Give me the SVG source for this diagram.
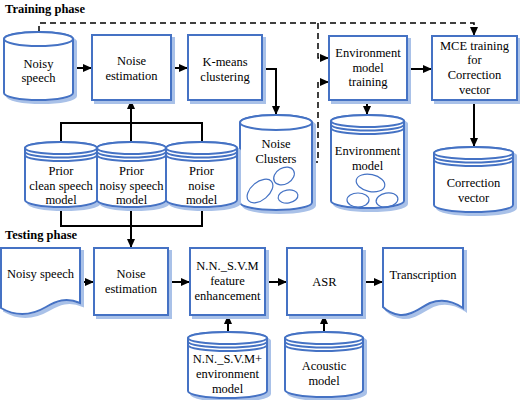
<svg xmlns="http://www.w3.org/2000/svg" width="520" height="400" viewBox="0 0 520 400">
<style>
.s{fill:#fff;stroke:#4472c4;stroke-width:2}
.o{fill:none;stroke:#4472c4;stroke-width:2}
.e{fill:none;stroke:#4472c4;stroke-width:1.2}
.t{font-family:"Liberation Serif","Times New Roman",serif;font-size:12.5px;fill:#000;text-anchor:middle}
.h{font-family:"Liberation Serif","Times New Roman",serif;font-size:12.5px;font-weight:bold;fill:#000}
.c{fill:none;stroke:#000;stroke-width:2}
.d{fill:none;stroke:#000;stroke-width:1.5;stroke-dasharray:6,4}
</style>
<defs>
<filter id="sh" x="-10%" y="-10%" width="125%" height="125%">
<feDropShadow dx="3" dy="3" stdDeviation="0.4" flood-color="#a9c1e8" flood-opacity="1"/>
</filter>
<marker id="ar" markerUnits="userSpaceOnUse" markerWidth="9" markerHeight="8" refX="9" refY="4" orient="auto">
<path d="M0,0 L9,4 L0,8 Z" fill="#000"/>
</marker>
</defs>
<rect width="520" height="400" fill="#fff"/>
<text class="h" x="5" y="13">Training phase</text>
<text class="h" x="5" y="239">Testing phase</text>

<g id="connectors">
<path class="c" d="M73,68 H92" marker-end="url(#ar)"/>
<path class="c" d="M171,68 H188" marker-end="url(#ar)"/>
<path class="c" d="M262,69 H276 V115" marker-end="url(#ar)"/>
<path class="c" d="M407,69 H432" marker-end="url(#ar)"/>
<path class="c" d="M367,100 V115" marker-end="url(#ar)"/>
<path class="c" d="M474,100 V147" marker-end="url(#ar)"/>
<path class="c" d="M61,142 V123 H202 V142"/>
<path class="c" d="M131,142 V100" marker-end="url(#ar)"/>
<path class="c" d="M61,207 V226 H202 V207"/>
<path class="c" d="M131,207 V248" marker-end="url(#ar)"/>
<path class="c" d="M80,282 H94" marker-end="url(#ar)"/>
<path class="c" d="M168,282 H190" marker-end="url(#ar)"/>
<path class="c" d="M265,282 H287" marker-end="url(#ar)"/>
<path class="c" d="M362,282 H383" marker-end="url(#ar)"/>
<path class="c" d="M228,332 V315" marker-end="url(#ar)"/>
<path class="c" d="M324,332 V315" marker-end="url(#ar)"/>
<path class="d" d="M39,32 V23 H474 V36" marker-end="url(#ar)"/>
<path class="d" d="M318,23 V58 H329" marker-end="url(#ar)"/>
<path class="d" d="M312,162 H318 V82 H329" marker-end="url(#ar)"/>
</g>

<g id="noisy-speech-train">
<g filter="url(#sh)">
<path class="s" d="M4,39 V93 A34.5,7 0 0 0 73,93 V39 A34.5,7 0 0 0 4,39 Z"/>
<ellipse class="s" cx="38.5" cy="39" rx="34.5" ry="7"/>
</g>
<text class="t" x="38.5" y="68">Noisy</text>
<text class="t" x="38.5" y="82">speech</text>
</g>

<g id="noise-estimation-train">
<rect class="s" x="92" y="35" width="79" height="65" filter="url(#sh)"/>
<text class="t" x="131.5" y="65">Noise</text>
<text class="t" x="131.5" y="80">estimation</text>
</g>

<g id="kmeans">
<rect class="s" x="188" y="35" width="74" height="65" filter="url(#sh)"/>
<text class="t" x="225" y="66">K-means</text>
<text class="t" x="225" y="81">clustering</text>
</g>

<g id="env-training">
<rect class="s" x="329" y="36" width="78" height="64" filter="url(#sh)"/>
<text class="t" x="368" y="57">Environment</text>
<text class="t" x="368" y="72">model</text>
<text class="t" x="368" y="86">training</text>
</g>

<g id="mce-training">
<rect class="s" x="432" y="36" width="85" height="64" filter="url(#sh)"/>
<text class="t" x="474.5" y="50">MCE training</text>
<text class="t" x="474.5" y="64">for</text>
<text class="t" x="474.5" y="79">Correction</text>
<text class="t" x="474.5" y="94">vector</text>
</g>

<g id="noise-clusters">
<g filter="url(#sh)">
<path class="s" d="M240,122.5 V202.5 A36,7.5 0 0 0 312,202.5 V122.5 A36,7.5 0 0 0 240,122.5 Z"/>
<ellipse class="s" cx="276" cy="122.5" rx="36" ry="7.5"/>
</g>
<text class="t" x="276" y="148">Noise</text>
<text class="t" x="276" y="163">Clusters</text>
<ellipse class="e" cx="260" cy="191" rx="15" ry="9" transform="rotate(-40 260 191)"/>
<ellipse class="e" cx="284" cy="176" rx="11" ry="8" transform="rotate(-30 284 176)"/>
<ellipse class="e" cx="288" cy="196.5" rx="10" ry="6.5" transform="rotate(-10 288 196.5)"/>
</g>

<g id="environment-model">
<g filter="url(#sh)">
<path class="s" d="M331,121 V201 A36.5,7 0 0 0 404,201 V121 A36.5,6 0 0 0 331,121 Z"/>
<ellipse class="s" cx="367.5" cy="121" rx="36.5" ry="6"/>
<path class="o" d="M331,124.5 A36.5,6 0 0 0 404,124.5 M331,128 A36.5,6 0 0 0 404,128"/>
</g>
<text class="t" x="367.5" y="155">Environment</text>
<text class="t" x="367.5" y="170">model</text>
<ellipse class="e" cx="370.5" cy="183" rx="14.5" ry="8.5" transform="rotate(12 370.5 183)"/>
<ellipse class="e" cx="358" cy="200" rx="11" ry="7"/>
<ellipse class="e" cx="387" cy="200" rx="11" ry="7" transform="rotate(-10 387 200)"/>
</g>

<g id="correction-vector">
<g filter="url(#sh)">
<path class="s" d="M434,153 V205 A39.5,7 0 0 0 513,205 V153 A39.5,6 0 0 0 434,153 Z"/>
<ellipse class="s" cx="473.5" cy="153" rx="39.5" ry="6"/>
<path class="o" d="M434,156.5 A39.5,6 0 0 0 513,156.5 M434,160 A39.5,6 0 0 0 513,160"/>
</g>
<text class="t" x="473.5" y="187">Correction</text>
<text class="t" x="473.5" y="202">vector</text>
</g>

<g id="prior-clean">
<g filter="url(#sh)">
<path class="s" d="M25,148 V200 A36,7 0 0 0 97,200 V148 A36,6 0 0 0 25,148 Z"/>
<ellipse class="s" cx="61" cy="148" rx="36" ry="6"/>
<path class="o" d="M25,151.5 A36,6 0 0 0 97,151.5 M25,155 A36,6 0 0 0 97,155"/>
</g>
<text class="t" x="61" y="175">Prior</text>
<text class="t" x="61" y="190">clean speech</text>
<text class="t" x="61" y="204">model</text>
</g>

<g id="prior-noisy">
<g filter="url(#sh)">
<path class="s" d="M97,148 V200 A34.5,7 0 0 0 166,200 V148 A34.5,6 0 0 0 97,148 Z"/>
<ellipse class="s" cx="131.5" cy="148" rx="34.5" ry="6"/>
<path class="o" d="M97,151.5 A34.5,6 0 0 0 166,151.5 M97,155 A34.5,6 0 0 0 166,155"/>
</g>
<text class="t" x="131.5" y="175">Prior</text>
<text class="t" x="131.5" y="190">noisy speech</text>
<text class="t" x="131.5" y="204">model</text>
</g>

<g id="prior-noise">
<g filter="url(#sh)">
<path class="s" d="M166,148 V200 A35.5,7 0 0 0 237,200 V148 A35.5,6 0 0 0 166,148 Z"/>
<ellipse class="s" cx="201.5" cy="148" rx="35.5" ry="6"/>
<path class="o" d="M166,151.5 A35.5,6 0 0 0 237,151.5 M166,155 A35.5,6 0 0 0 237,155"/>
</g>
<text class="t" x="201.5" y="175">Prior</text>
<text class="t" x="201.5" y="190">noise</text>
<text class="t" x="201.5" y="204">model</text>
</g>

<g id="noisy-speech-test">
<path class="s" filter="url(#sh)" d="M1,248 H80 V303 C66,297 56,301 46,307 C34,314 18,318 1,308 Z"/>
<text class="t" x="40.5" y="278">Noisy speech</text>
</g>

<g id="noise-estimation-test">
<rect class="s" x="94" y="248" width="74" height="67" filter="url(#sh)"/>
<text class="t" x="131" y="278">Noise</text>
<text class="t" x="131" y="293">estimation</text>
</g>

<g id="nnsvm-enh">
<rect class="s" x="190" y="248" width="75" height="67" filter="url(#sh)"/>
<text class="t" x="227.5" y="270">N.N._S.V.M</text>
<text class="t" x="227.5" y="285">feature</text>
<text class="t" x="227.5" y="300">enhancement</text>
</g>

<g id="asr">
<rect class="s" x="287" y="248" width="75" height="67" filter="url(#sh)"/>
<text class="t" x="324.5" y="286">ASR</text>
</g>

<g id="transcription">
<path class="s" filter="url(#sh)" d="M383,248 H463 V308 C450,299 440,299 430,303 C418,309 410,316 400,315 C392,314 387,311 383,307 Z"/>
<text class="t" x="423" y="279">Transcription</text>
</g>

<g id="nnsvm-env-model">
<g filter="url(#sh)">
<path class="s" d="M188,338 V391 A39.5,7 0 0 0 267,391 V338 A39.5,6 0 0 0 188,338 Z"/>
<ellipse class="s" cx="227.5" cy="338" rx="39.5" ry="6"/>
<path class="o" d="M188,341.5 A39.5,6 0 0 0 267,341.5 M188,345 A39.5,6 0 0 0 267,345"/>
</g>
<text class="t" x="227.5" y="363">N.N._S.V.M+</text>
<text class="t" x="227.5" y="378">environment</text>
<text class="t" x="227.5" y="393">model</text>
</g>

<g id="acoustic-model">
<g filter="url(#sh)">
<path class="s" d="M285,338 V390 A39,7 0 0 0 363,390 V338 A39,6 0 0 0 285,338 Z"/>
<ellipse class="s" cx="324" cy="338" rx="39" ry="6"/>
<path class="o" d="M285,341.5 A39,6 0 0 0 363,341.5 M285,345 A39,6 0 0 0 363,345"/>
</g>
<text class="t" x="324" y="370">Acoustic</text>
<text class="t" x="324" y="385">model</text>
</g>
</svg>
